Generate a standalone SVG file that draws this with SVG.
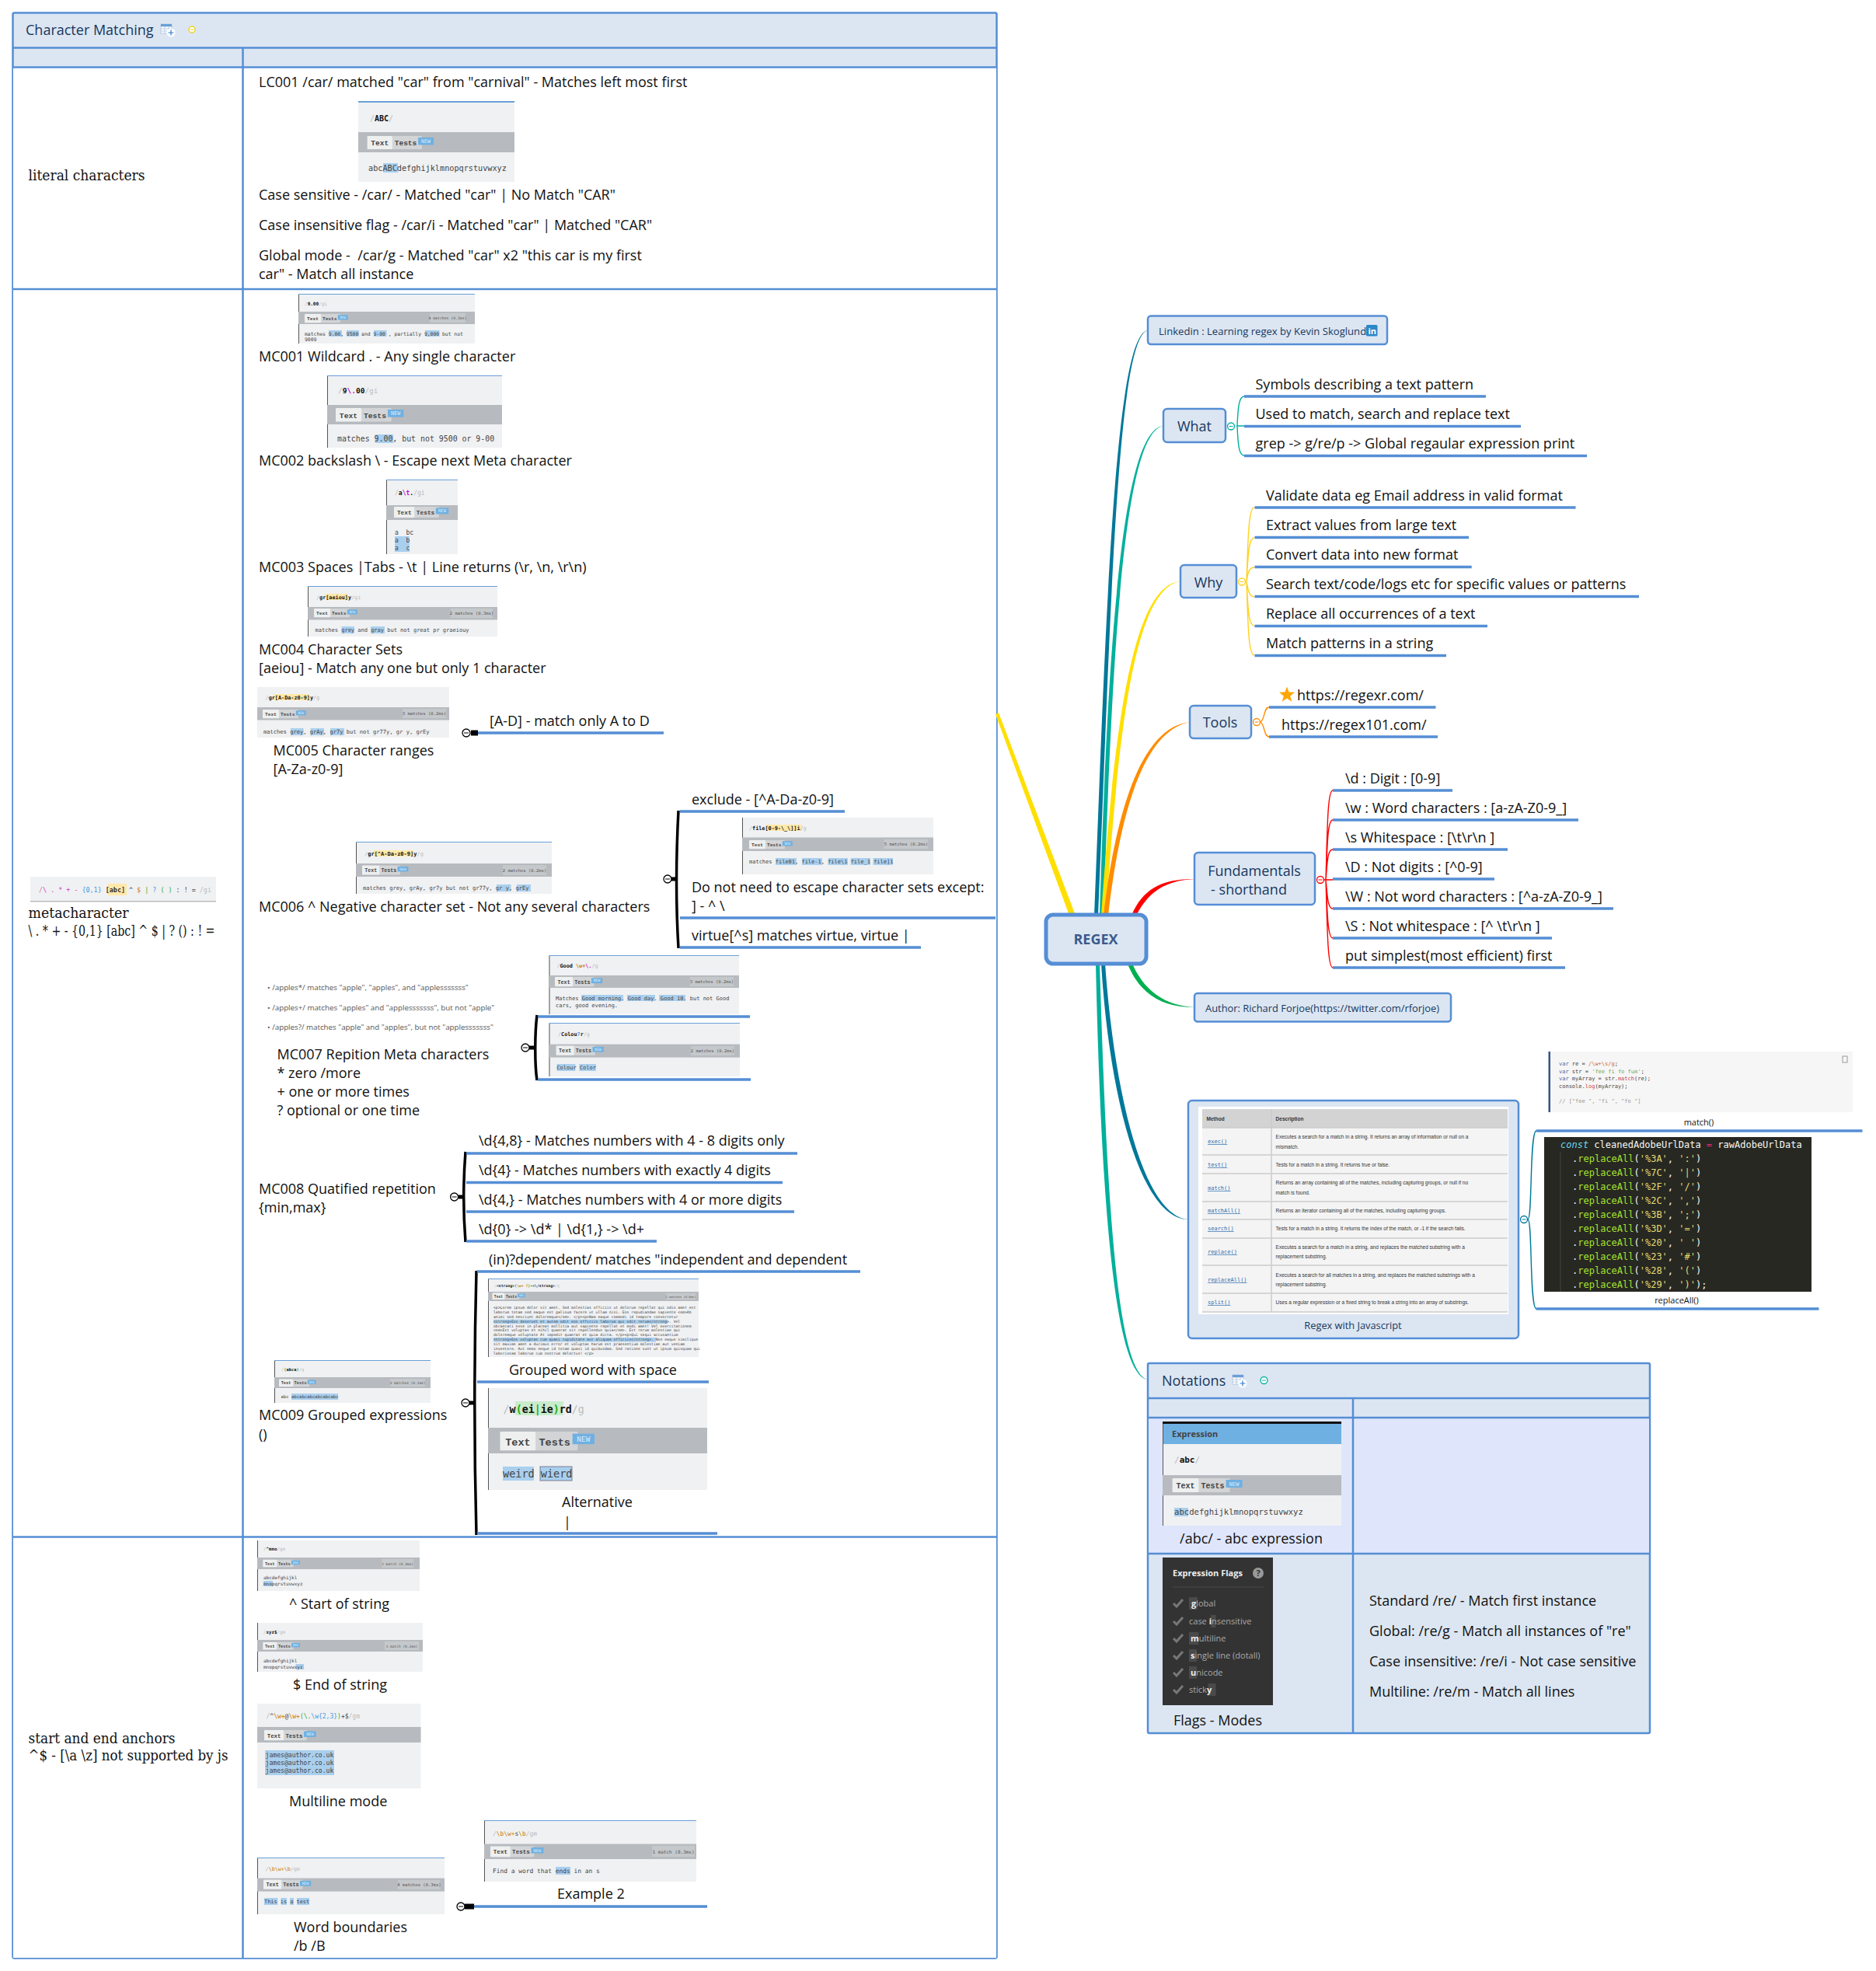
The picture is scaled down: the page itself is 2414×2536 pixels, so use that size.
<svg xmlns="http://www.w3.org/2000/svg" width="2414" height="2536" viewBox="0 0 2414 2536">
<style>
text{font-family:"Open Sans","Noto Sans",sans-serif;font-size:18px;fill:#111}
.b{fill:#dce6f2;stroke:#558ed5;stroke-width:2.5}
.bl{fill:none;stroke:#558ed5;stroke-width:2.5}
.u{fill:none;stroke:#558ed5;stroke-width:3.5}
.h{fill:#17375e}
.sf{font-family:"DejaVu Serif",serif;font-size:18px}
.m{font-family:"DejaVu Sans Mono",monospace;fill:#444}
.mb{font-family:"DejaVu Sans Mono",monospace;fill:#111;font-weight:bold}
.dim{fill:#bbb;font-weight:normal}
.sb{fill:#f0f1f3}
.sg{fill:#b7bbbf}
.st{fill:#6aa0d8}
.sl{fill:#555}
.hl{fill:#a9cfee}
.hy{fill:#ffe9a8}
.pl{fill:#c5c8cb}
.pt{font-family:"DejaVu Sans Mono",monospace;fill:#555;text-anchor:middle}
.ring{fill:#fff;stroke-width:1.3}
.cn{fill:none;stroke-width:1.4}
.br{fill:none;stroke:#000;stroke-width:3.5}
.sm{font-family:"Liberation Sans",sans-serif;font-size:6.5px;fill:#333}
.lk{font-family:"DejaVu Sans Mono",monospace;font-size:7px;fill:#2a6db0;text-decoration:underline}
.fl{font-size:11px;fill:#aaa}
.flb{font-weight:bold;fill:#eee}
.ck{fill:none;stroke:#777;stroke-width:3}
.cap{font-size:11px;text-anchor:middle}
</style>
<defs>
<g id="tabs">
<rect x="34" width="40" height="18" fill="#d2d4d6" rx="1"/>
<rect width="34" height="18" fill="#eef0f0" rx="1"/>
<text x="17" y="13" text-anchor="middle" style="font-size:10px;fill:#444;font-weight:bold;font-family:'Liberation Mono',monospace">Text</text>
<text x="52" y="13" text-anchor="middle" style="font-size:10px;fill:#444;font-weight:bold;font-family:'Liberation Mono',monospace">Tests</text>
<rect x="69" y="2" width="21" height="10" fill="#6fb0e2"/>
<text x="79.500" y="9.500" text-anchor="middle" style="font-size:7px;fill:#d8ecfa;font-family:'DejaVu Sans Mono',monospace">NEW</text>
</g>
<g id="grid">
<rect x="0" y="0" width="14" height="12" fill="#fff" stroke="#a8c0dc" stroke-width=".8"/>
<path d="M0 3H14M0 6H14M0 9H14M5 0V12M10 0V12" stroke="#a8c0dc" stroke-width=".8" fill="none"/>
<rect x="0" y="0" width="14" height="3" fill="#6aa0d8"/>
<circle cx="13" cy="11" r="5.500" fill="#fff"/>
<path d="M9.500 11H16.500M13 7.500V14.500" stroke="#2a7fd0" stroke-width="1.200" fill="none"/>
</g>
</defs>
<rect width="2414" height="2536" fill="#fff"/>

<g id="character-matching">
<rect class="b" x="16.500" y="16.500" width="1266" height="2503" rx="2"/>
<rect x="17" y="87" width="1265" height="2432" fill="#fff"/>
<path class="bl" d="M16 61.500H1283M16 86.500H1283M16 372H1283M16 1977.500H1283M312.500 62V2519"/>
<text class="h" x="33" y="45">Character Matching</text>
<use href="#grid" x="207" y="31"/>
<circle cx="247" cy="38" r="4" fill="#fff" stroke="#f2d21a" stroke-width="1.500"/><path d="M245 38H249" stroke="#f2d21a"/>
<text class="sf" x="36.500" y="232" textLength="150" lengthAdjust="spacingAndGlyphs">literal characters</text>
<text class="sf" x="36.500" y="1181" textLength="129" lengthAdjust="spacingAndGlyphs">metacharacter</text>
<text class="sf" x="36.500" y="1204" textLength="240" lengthAdjust="spacingAndGlyphs">\ . * + - {0,1} [abc] ^ $ | ? () : ! =</text>
<text class="sf" x="36.500" y="2243" textLength="189" lengthAdjust="spacingAndGlyphs">start and end anchors</text>
<text class="sf" x="36.500" y="2265" textLength="257" lengthAdjust="spacingAndGlyphs">^$ - [\a \z] not supported by js</text>
</g>

<g id="connectors">
<path d="M1281 919L1376 1178L1384 1178L1285 917Z" fill="#ffdf00"/>
<path d="M1408 1178C1423 800 1434 430 1477 425C1437 433 1429 800 1413 1178Z" fill="#00789a"/>
<path d="M1415 1178C1425 850 1442 552 1497 548C1445 556 1431 850 1420 1178Z" fill="#00b09c"/>
<path d="M1417 1178C1433 950 1455 752 1519 748C1458 757 1439 950 1423 1178Z" fill="#ffdf00"/>
<path d="M1420 1178C1436 1040 1470 935 1531 929C1473 940 1442 1040 1426 1178Z" fill="#ff8c00"/>
<path d="M1456 1178C1472 1140 1500 1131 1537 1131C1502 1133 1479 1145 1462 1178Z" fill="#ff0000"/>
<path d="M1451 1240C1468 1283 1500 1296 1537 1296C1502 1294 1474 1278 1457 1240Z" fill="#00b050"/>
<path d="M1410 1240C1416 1500 1430 1770 1477 1775C1434 1766 1423 1500 1415 1240Z" fill="#00b09c"/>
<path d="M1417 1240C1428 1420 1470 1569 1529 1569C1474 1565 1435 1420 1422 1240Z" fill="#00789a"/>
<g class="cn" stroke="#00b09c"><path d="M1591 548H1601M1592 548C1593 525 1594 510 1601 510M1592 548C1593 571 1594 586 1601 586"/></g>
<g class="cn" stroke="#ffd21f"><path d="M1604 748C1606 700 1606 653 1614 653M1604 748C1606 720 1606 692 1614 692M1604 748C1606 735 1608 730 1614 730M1604 748C1606 760 1608 768 1614 768M1604 748C1606 780 1606 805 1614 805M1604 748C1606 800 1606 843 1614 843"/></g>
<g class="cn" stroke="#ff8c00"><path d="M1622 929C1628 925 1626 910 1633 910M1622 929C1628 933 1626 948 1633 948"/></g>
<g class="cn" stroke="#ff0000"><path d="M1704 1132H1715M1706 1132C1708 1070 1708 1017 1715 1017M1706 1132C1708 1090 1708 1055 1715 1055M1706 1132C1708 1110 1708 1093 1715 1093M1706 1132C1708 1150 1708 1169 1715 1169M1706 1132C1708 1170 1708 1207 1715 1207M1706 1132C1708 1190 1708 1245 1715 1245"/></g>
<g class="cn" stroke="#00789a"><path d="M1966 1569C1972 1569 1968 1455 1977 1455M1966 1569C1972 1569 1968 1684 1977 1684"/></g>
<g stroke="#000" fill="none">
<path d="M606 943H615" stroke-width="7"/>
<path class="br" d="M873 1043C870 1100 870 1170 873 1220"/><path d="M864 1131H871" stroke-width="5"/>
<path class="br" d="M691 1306C688 1330 688 1370 691 1390"/><path d="M681 1348H689" stroke-width="5"/>
<path class="br" d="M599 1482C596 1520 596 1560 599 1598"/><path d="M590 1540H597" stroke-width="5"/>
<path class="br" d="M613 1635C610 1750 610 1860 613 1975"/><path d="M604 1805H611" stroke-width="5"/>
<path d="M598 2453H610" stroke-width="7"/>
</g>
</g>

<g id="meta-image">
<rect class="sb" x="39" y="1128" width="239" height="32"/><rect x="39" y="1159" width="239" height="1.500" fill="#bbb"/>
<rect class="hy" x="139" y="1137" width="24" height="15"/>
<text x="50" y="1148" class="m" style="font-size:8.400px"><tspan fill="#c78">/</tspan><tspan fill="#c3c">\ . * + -</tspan> <tspan fill="#49d">{0,1}</tspan> <tspan style="font-weight:bold" fill="#333">[abc]</tspan> ^ <tspan fill="#c70">$</tspan> <tspan fill="#3a3">|</tspan> <tspan fill="#49d">?</tspan> <tspan fill="#3a3">( )</tspan> : ! = <tspan fill="#bbb">/gi</tspan></text>
</g>

<g id="lc001">
<text x="333" y="112">LC001 /car/ matched "car" from "carnival" - Matches left most first</text>
<text x="333" y="257">Case sensitive - /car/ - Matched "car" | No Match "CAR"</text>
<text x="333" y="296">Case insensitive flag - /car/i - Matched "car" | Matched "CAR"</text>
<text x="333" y="335" xml:space="preserve">Global mode -  /car/g - Matched "car" x2 "this car is my first</text>
<text x="333" y="359">car" - Match all instance</text>
<rect class="sb" x="461" y="130" width="201" height="104"/><rect class="st" x="461" y="130" width="201" height="2"/><rect class="sg" x="461" y="170" width="201" height="26"/>
<use href="#tabs" transform="translate(472.600 175) scale(.95)"/>
<text class="mb" x="476" y="156" style="font-size:10px"><tspan class="dim">/</tspan>ABC<tspan class="dim">/</tspan></text>
<rect class="hl" x="493" y="210" width="19" height="12"/>
<text class="m" x="474" y="220" style="font-size:10.200px">abcABCdefghijklmnopqrstuvwxyz</text>
</g>

<g id="mc001">
<rect class="sb" x="384" y="378" width="227" height="64"/><rect class="st" x="384" y="378" width="227" height="1"/><rect class="sl" x="384" y="379" width="1" height="63"/><rect class="sg" x="384" y="401" width="227" height="16"/>
<use href="#tabs" transform="translate(392 404) scale(.62)"/>
<rect class="pl" x="553" y="403" width="46" height="12"/><text class="pt" x="576" y="411" style="font-size:4.800px">4 matches (0.3ms)</text>
<text class="mb" x="392" y="393" style="font-size:6px"><tspan class="dim">/</tspan>9.00<tspan class="dim">/gi</tspan></text>
<rect class="hl" x="423" y="425" width="17" height="8"/><rect class="hl" x="446" y="425" width="16" height="8"/><rect class="hl" x="481" y="425" width="16.500" height="8"/><rect class="hl" x="547" y="425" width="18.500" height="8"/>
<text class="m" x="392" y="431.500" style="font-size:6.400px">matches 9.00, 9500 and 9-00 , partially 9,000 but not</text>
<text class="m" x="392" y="439" style="font-size:6.400px">9009</text>
<text x="333" y="465">MC001 Wildcard . - Any single character</text>
</g>

<g id="mc002">
<rect class="sb" x="421" y="483" width="225" height="93"/><rect class="st" x="421" y="483" width="225" height="1"/><rect class="sl" x="421" y="484" width="1" height="92"/><rect class="sg" x="421" y="521" width="225" height="25"/>
<use href="#tabs" transform="translate(432 525) scale(.97)"/>
<text class="mb" x="435" y="506" style="font-size:9.500px"><tspan class="dim">/</tspan>9<tspan fill="#c0c">\.</tspan>00<tspan class="dim">/gi</tspan></text>
<rect class="hl" x="482.600" y="559" width="23.500" height="11"/>
<text class="m" x="434" y="568" style="font-size:9.900px">matches 9.00, but not 9500 or 9-00</text>
<text x="333" y="599">MC002 backslash \ - Escape next Meta character</text>
</g>

<g id="mc003">
<rect class="sb" x="497" y="617" width="92" height="96"/><rect class="st" x="497" y="617" width="92" height="1"/><rect class="sl" x="497" y="618" width="1" height="95"/><rect class="sg" x="497" y="650" width="92" height="19"/>
<use href="#tabs" transform="translate(507 652) scale(.78)"/>
<text class="mb" x="508" y="637" style="font-size:8px"><tspan class="dim">/</tspan>a<tspan fill="#c0c">\t</tspan>.<tspan class="dim">/gi</tspan></text>
<rect class="hl" x="508" y="690" width="19" height="10"/><rect class="hl" x="508" y="700" width="19" height="10"/>
<text class="m" x="508" y="688" style="font-size:8px" xml:space="preserve">a  bc</text>
<text class="m" x="508" y="698" style="font-size:8px" xml:space="preserve">a  b</text>
<text class="m" x="508" y="708" style="font-size:8px" xml:space="preserve">a  c</text>
<text x="333" y="736">MC003 Spaces |Tabs - \t | Line returns (\r, \n, \r\n)</text>
</g>

<g id="mc004">
<rect class="sb" x="396" y="754" width="244" height="65"/><rect class="st" x="396" y="754" width="244" height="1"/><rect class="sl" x="396" y="755" width="1" height="64"/><rect class="sg" x="396" y="781" width="244" height="16.500"/>
<use href="#tabs" transform="translate(404 783) scale(.62)"/>
<rect class="pl" x="580" y="783" width="54" height="12"/><text class="pt" x="607" y="791" style="font-size:5.500px">2 matches (0.3ms)</text>
<rect class="hy" x="418.500" y="764" width="29" height="8"/>
<text class="mb" x="407" y="770.500" style="font-size:6.800px"><tspan class="dim">/</tspan>gr[aeiou]y<tspan class="dim">/gi</tspan></text>
<rect class="hl" x="439.500" y="806" width="16.500" height="9"/><rect class="hl" x="477" y="806" width="18" height="9"/>
<text class="m" x="405.500" y="813" style="font-size:7px">matches grey and gray but not great pr graeiouy</text>
<text x="333" y="842">MC004 Character Sets</text>
<text x="333" y="866">[aeiou] - Match any one but only 1 character</text>
</g>

<g id="mc005">
<rect class="sb" x="331" y="884" width="247" height="65"/><rect class="sg" x="331" y="910" width="247" height="16.500"/>
<use href="#tabs" transform="translate(338 913) scale(.62)"/>
<rect class="pl" x="518" y="912" width="56" height="12"/><text class="pt" x="546" y="920" style="font-size:5.500px">3 matches (0.2ms)</text>
<rect class="hy" x="352" y="893" width="46" height="8"/>
<text class="mb" x="341.600" y="899.500" style="font-size:6.800px"><tspan class="dim">/</tspan>gr[A-Da-z0-9]y<tspan class="dim">/g</tspan></text>
<rect class="hl" x="374" y="937" width="16.500" height="9"/><rect class="hl" x="399.600" y="937" width="17.400" height="9"/><rect class="hl" x="425" y="937" width="18" height="9"/>
<text class="m" x="339" y="944" style="font-size:7.100px">matches grey, grAy, gr7y but not gr77y, gr y, grEy</text>
<text x="351.500" y="972">MC005 Character ranges</text>
<text x="351.500" y="996">[A-Za-z0-9]</text>
<circle class="ring" cx="600" cy="943" r="5" stroke="#000"/><path d="M597 943H603" stroke="#000"/>
<text x="630" y="934">[A-D] - match only A to D</text>
<path class="u" d="M615 943H854"/>
</g>

<g id="mc006">
<rect class="sb" x="458" y="1083" width="252" height="67"/><rect class="st" x="458" y="1083" width="252" height="1"/><rect class="sl" x="458" y="1084" width="1" height="66"/><rect class="sg" x="458" y="1111" width="252" height="17"/>
<use href="#tabs" transform="translate(466 1113.500) scale(.66)"/>
<rect class="pl" x="647" y="1113" width="56" height="13"/><text class="pt" x="675" y="1122" style="font-size:5.500px">2 matches (0.2ms)</text>
<rect class="hy" x="480" y="1094" width="52" height="8"/>
<text class="mb" x="469" y="1100.500" style="font-size:7px"><tspan class="dim">/</tspan>gr[^A-Da-z0-9]y<tspan class="dim">/g</tspan></text>
<rect class="hl" x="639" y="1138" width="18.500" height="9"/><rect class="hl" x="665" y="1138" width="18" height="9"/>
<text class="m" x="467" y="1145" style="font-size:7.100px">matches grey, grAy, gr7y but not gr77y, gr y, grEy</text>
<text x="333" y="1173">MC006 ^ Negative character set - Not any several characters</text>
<circle class="ring" cx="859" cy="1131" r="5" stroke="#000"/><path d="M856 1131H862" stroke="#000"/>
<text x="890" y="1035">exclude - [^A-Da-z0-9]</text>
<path class="u" d="M875 1044H1087"/>
<rect class="sb" x="955" y="1052" width="246" height="73"/><rect class="sl" x="955" y="1052" width="1" height="73"/><rect class="sg" x="955" y="1077.500" width="246" height="17.500"/>
<use href="#tabs" transform="translate(964 1081) scale(.62)"/>
<rect class="pl" x="1137.500" y="1080" width="56.500" height="12"/><text class="pt" x="1166" y="1088" style="font-size:5.500px">5 matches (0.2ms)</text>
<rect class="hy" x="986" y="1061" width="46" height="8"/>
<text class="mb" x="964" y="1067.500" style="font-size:6.800px"><tspan class="dim">/</tspan>file[0-9-\_\]]i<tspan class="dim">/g</tspan></text>
<rect class="hl" x="998" y="1104" width="27" height="9"/><rect class="hl" x="1032" y="1104" width="26" height="9"/><rect class="hl" x="1065.500" y="1104" width="25.500" height="9"/><rect class="hl" x="1094.600" y="1104" width="25.400" height="9"/><rect class="hl" x="1123.500" y="1104" width="25.500" height="9"/>
<text class="m" x="964" y="1111" style="font-size:7px">matches file01, file-1, file\1 file_1 file]1</text>
<text x="890" y="1148">Do not need to escape character sets except:</text>
<text x="890" y="1172">] - ^ \</text>
<path class="u" d="M875 1181H1281"/>
<text x="890" y="1210">virtue[^s] matches virtue, virtue |</text>
<path class="u" d="M875 1219H1185"/>
</g>

<g id="mc007">
<text x="344" y="1274" style="font-size:9.750px;fill:#555">• /apples*/ matches "apple", "apples", and "applesssssss"</text>
<text x="344" y="1300" style="font-size:9.750px;fill:#555">• /apples+/ matches "apples" and "applesssssss", but not "apple"</text>
<text x="344" y="1325" style="font-size:9.750px;fill:#555">• /apples?/ matches "apple" and "apples", but not "applesssssss"</text>
<text x="356.500" y="1363">MC007 Repition Meta characters</text>
<text x="356.500" y="1387">* zero /more</text>
<text x="356.500" y="1411">+ one or more times</text>
<text x="356.500" y="1435">? optional or one time</text>
<circle class="ring" cx="676" cy="1348" r="5" stroke="#000"/><path d="M673 1348H679" stroke="#000"/>
<rect class="sb" x="706.500" y="1229" width="244.500" height="76"/><rect class="st" x="706.500" y="1229" width="244.500" height="1"/><rect class="sl" x="706.500" y="1230" width="1" height="75"/><rect class="sg" x="706.500" y="1255" width="244.500" height="16"/>
<use href="#tabs" transform="translate(714 1257) scale(.68)"/>
<rect class="pl" x="888" y="1257" width="56" height="12"/><text class="pt" x="916" y="1265" style="font-size:5.500px">3 matches (0.2ms)</text>
<text class="mb" x="716.400" y="1244.500" style="font-size:6.800px"><tspan class="dim">/</tspan>Good <tspan fill="#c70">\w+</tspan><tspan fill="#c0c">\.</tspan><tspan class="dim">/g</tspan></text>
<rect class="hl" x="748" y="1280" width="54" height="8"/><rect class="hl" x="807" y="1280" width="36" height="8"/><rect class="hl" x="848" y="1280" width="34" height="8"/>
<text class="m" x="715" y="1287" style="font-size:7px">Matches Good morning. Good day. Good 10. but not Good</text>
<text class="m" x="715" y="1296" style="font-size:7px">cars, good evening.</text>
<path class="u" d="M692 1308H965"/>
<rect class="sb" x="706.500" y="1316" width="245.500" height="69"/><rect class="st" x="706.500" y="1316" width="245.500" height="1"/><rect class="sl" x="706.500" y="1317" width="1" height="68"/><rect class="sg" x="706.500" y="1343.600" width="245.500" height="17"/>
<use href="#tabs" transform="translate(715.600 1345.500) scale(.68)"/>
<rect class="pl" x="889" y="1346" width="56" height="12"/><text class="pt" x="917" y="1354" style="font-size:5.500px">2 matches (0.2ms)</text>
<text class="mb" x="718" y="1333" style="font-size:6.800px"><tspan class="dim">/</tspan>Colou<tspan fill="#49d">?</tspan>r<tspan class="dim">/g</tspan></text>
<rect class="hl" x="716.400" y="1369" width="24" height="9"/><rect class="hl" x="745.400" y="1369" width="21.600" height="9"/>
<text class="m" x="716.400" y="1376" style="font-size:7px">Colour Color</text>
<path class="u" d="M692 1389H966"/>
</g>

<g id="mc008">
<text x="333" y="1536">MC008 Quatified repetition</text>
<text x="333" y="1560">{min,max}</text>
<circle class="ring" cx="584.600" cy="1540" r="5" stroke="#000"/><path d="M581.600 1540H587.600" stroke="#000"/>
<text x="616" y="1474">\d{4,8} - Matches numbers with 4 - 8 digits only</text>
<path class="u" d="M600 1484H1026"/>
<text x="616" y="1512">\d{4} - Matches numbers with exactly 4 digits</text>
<path class="u" d="M600 1521.500H1007"/>
<text x="616" y="1550">\d{4,} - Matches numbers with 4 or more digits</text>
<path class="u" d="M600 1559H1022"/>
<text x="616" y="1588">\d{0} -&gt; \d* | \d{1,} -&gt; \d+</text>
<path class="u" d="M600 1597H845"/>
</g>

<g id="mc009">
<rect class="sb" x="353" y="1750" width="201" height="55"/><rect class="st" x="353" y="1750" width="201" height="1"/><rect class="sl" x="353" y="1751" width="1" height="54"/><rect class="sg" x="353" y="1772" width="201" height="14"/>
<use href="#tabs" transform="translate(359 1774.500) scale(.53)"/>
<rect class="pl" x="502" y="1774" width="45" height="10"/><text class="pt" x="524.500" y="1781" style="font-size:4.500px">3 matches (0.1ms)</text>
<text class="mb" x="362" y="1764" style="font-size:5.400px"><tspan class="dim">/</tspan><tspan fill="#3a3">(</tspan>abca<tspan fill="#3a3">)</tspan><tspan class="dim">/g</tspan></text>
<rect class="hl" x="375" y="1793" width="60" height="8"/>
<text class="m" x="361.500" y="1799" style="font-size:5.600px">abc abcabcabcabcabcabc</text>
<text x="333" y="1827">MC009 Grouped expressions</text>
<text x="333" y="1852">()</text>
<circle class="ring" cx="599" cy="1805" r="5" stroke="#000"/><path d="M596 1805H602" stroke="#000"/>
<text x="629" y="1627">(in)?dependent/ matches "independent and dependent</text>
<path class="u" d="M614 1636H1107"/>
<rect class="sb" x="628" y="1645" width="271" height="101"/><rect class="st" x="628" y="1645" width="271" height="1"/><rect class="sl" x="628" y="1646" width="1" height="100"/><rect class="sg" x="628" y="1662" width="271" height="12"/>
<use href="#tabs" transform="translate(633.500 1663.500) scale(.47)"/>
<rect class="pl" x="857" y="1664" width="38" height="8"/><text class="pt" x="876" y="1670" style="font-size:3.800px">2 matches (0.0ms)</text>
<text class="mb" x="636" y="1655.500" style="font-size:4.800px"><tspan class="dim">/</tspan>&lt;strong&gt;<tspan fill="#3a3">(</tspan><tspan fill="#c70">\w+ ?</tspan><tspan fill="#3a3">)+</tspan>&lt;\/strong&gt;<tspan class="dim">/g</tspan></text>
<rect class="hl" x="635" y="1697.800" width="224" height="5.500"/><rect class="hl" x="635" y="1721" width="209" height="5.500"/>
<text class="m" style="font-size:4.750px" x="635" y="1684">&lt;p&gt;Lorem ipsum dolor sit amet. Sed molestias officiis ut dolorum repellat qui odio amet est</text>
<text class="m" style="font-size:4.750px" x="635" y="1690">laborum totam sed  eaque est galisum facere ut ullam nisi. Eos repudiandae sapiente &lt;em&gt;Ab</text>
<text class="m" style="font-size:4.750px" x="635" y="1695.800">animi sed nesciunt doloremque&lt;/em&gt;. &lt;/p&gt;&lt;p&gt;Nam eaque commodi id tempore consectetur</text>
<text class="m" style="font-size:4.750px" x="635" y="1701.700">&lt;strong&gt;Eos deserunt et autem odit eos officiis laborum qui odit rerum&lt;/strong&gt;. Vel</text>
<text class="m" style="font-size:4.750px" x="635" y="1707.500">obcaecati esse in placeat mollitia aut sapiente repellat et modi amet! Vel exercitationem</text>
<text class="m" style="font-size:4.750px" x="635" y="1713.300">&lt;em&gt;Est voluptas et nihil quaerat sit repellendus quia&lt;/em&gt;. Est rerum molestiae qui</text>
<text class="m" style="font-size:4.750px" x="635" y="1719.100">doloremque voluptate At impedit quaerat et quia dicta. &lt;/p&gt;&lt;p&gt;Qui sequi accusantium</text>
<text class="m" style="font-size:4.750px" x="635" y="1725">&lt;strong&gt;Eos voluptas cum quasi cupiditate aut aliquam officiis&lt;/strong&gt;. Non eaque similique</text>
<text class="m" style="font-size:4.750px" x="635" y="1730.800">sit maxime amet a ducimus error et voluptas harum est praesentium molestiae aut veniam</text>
<text class="m" style="font-size:4.750px" x="635" y="1736.600">inventore. Aut nemo neque id totam quasi id quibusdam. Sed ratione sunt ut ipsum quisquam qui</text>
<text class="m" style="font-size:4.750px" x="635" y="1742.500">laboriosam laborum cum nostrum delectus! &lt;/p&gt;</text>
<text x="655" y="1769">Grouped word with space</text>
<path class="u" d="M614 1778H912"/>
<rect class="sb" x="628" y="1786" width="282" height="131"/><rect class="sl" x="628" y="1786" width="1" height="131"/><rect class="sg" x="628" y="1837" width="282" height="33"/>
<use href="#tabs" transform="translate(643.500 1842) scale(1.350)"/>
<rect fill="#c9eccb" x="663" y="1803" width="62" height="18"/>
<text class="mb" x="647.600" y="1818" style="font-size:13.300px"><tspan class="dim">/</tspan>w<tspan fill="#2a2">(</tspan>ei<tspan fill="#2a2">|</tspan>ie<tspan fill="#2a2">)</tspan>rd<tspan class="dim">/g</tspan></text>
<rect class="hl" x="647" y="1887" width="40" height="18"/><rect class="hl" x="695" y="1887" width="41" height="18"/><rect x="695" y="1887" width="41" height="18" fill="none" stroke="#667" stroke-width=".8"/>
<text class="m" x="647" y="1901" style="font-size:13.500px">weird wierd</text>
<text x="723" y="1939">Alternative</text>
<text x="725" y="1965">|</text>
<path class="u" d="M614 1973H923"/>
</g>

<g id="anchors">
<rect class="sb" x="331" y="1982" width="209" height="65"/><rect class="sl" x="331" y="1982" width="1" height="65"/><rect class="sg" x="331" y="2004" width="209" height="15"/>
<use href="#tabs" transform="translate(338.300 2006.700) scale(.53)"/>
<rect class="pl" x="491" y="2006" width="41" height="11"/><text class="pt" x="511.500" y="2013.500" style="font-size:4.500px">1 match (0.3ms)</text>
<text class="mb" x="339" y="1995" style="font-size:5.800px"><tspan class="dim">/</tspan>^mno<tspan class="dim">/gm</tspan></text>
<rect class="hl" x="339" y="2034" width="12" height="7"/>
<text class="m" x="339" y="2032" style="font-size:6px">abcdefghijkl</text>
<text class="m" x="339" y="2039.500" style="font-size:6px">mnopqrstuvwxyz</text>
<text x="372" y="2070">^ Start of string</text>

<rect class="sb" x="331" y="2088" width="213" height="63"/><rect class="sl" x="331" y="2088" width="1" height="63"/><rect class="sg" x="331" y="2110" width="213" height="15"/>
<use href="#tabs" transform="translate(338.300 2113) scale(.53)"/>
<rect class="pl" x="495" y="2112" width="44" height="11"/><text class="pt" x="517" y="2119.500" style="font-size:4.500px">1 match (0.2ms)</text>
<text class="mb" x="339" y="2101.500" style="font-size:5.800px"><tspan class="dim">/</tspan>xyz$<tspan class="dim">/gm</tspan></text>
<rect class="hl" x="380.600" y="2141" width="10.500" height="7"/>
<text class="m" x="339" y="2139" style="font-size:6px">abcdefghijkl</text>
<text class="m" x="339" y="2146.500" style="font-size:6px">mnopqrstuvwxyz</text>
<text x="377" y="2174">$ End of string</text>

<rect class="sb" x="331" y="2192" width="210.500" height="109"/><rect class="sg" x="331" y="2222" width="210.500" height="20"/>
<use href="#tabs" transform="translate(340 2226) scale(.74)"/>
<text class="m" x="342.500" y="2211" style="font-size:8px"><tspan class="dim">/</tspan>^<tspan fill="#c70">\w+</tspan>@<tspan fill="#c70">\w+</tspan><tspan fill="#3a3">(\.</tspan><tspan fill="#49d">\w{2,3}</tspan><tspan fill="#3a3">)</tspan>+$<tspan class="dim">/gm</tspan></text>
<rect class="hl" x="341" y="2252" width="89" height="32"/>
<text class="m" x="341.600" y="2260.500" style="font-size:8.100px">james@author.co.uk</text>
<text class="m" x="341.600" y="2270.500" style="font-size:8.100px">james@author.co.uk</text>
<text class="m" x="341.600" y="2280.500" style="font-size:8.100px">james@author.co.uk</text>
<text x="372" y="2324">Multiline mode</text>

<rect class="sb" x="623" y="2342" width="273" height="79"/><rect class="st" x="623" y="2342" width="273" height="1"/><rect class="sl" x="623" y="2343" width="1" height="78"/><rect class="sg" x="623" y="2372.500" width="273" height="19.500"/>
<use href="#tabs" transform="translate(631 2375.500) scale(.76)"/>
<rect class="pl" x="839" y="2375" width="55" height="14"/><text class="pt" x="866.500" y="2385" style="font-size:6px">1 match (0.3ms)</text>
<text class="m" x="634" y="2361.500" style="font-size:7.900px"><tspan class="dim">/</tspan><tspan fill="#c70">\b\w+</tspan>s<tspan fill="#c70">\b</tspan><tspan class="dim">/gm</tspan></text>
<rect class="hl" x="715" y="2402" width="19" height="10"/>
<text class="m" x="634" y="2410" style="font-size:7.900px">Find a word that ends in an s</text>
<text x="717" y="2443">Example 2</text>
<circle class="ring" cx="593" cy="2453" r="5" stroke="#000"/><path d="M590 2453H596" stroke="#000"/>
<path class="u" d="M610 2453H910"/>

<rect class="sb" x="331" y="2390" width="241" height="73"/><rect class="st" x="331" y="2390" width="241" height="1"/><rect class="sl" x="331" y="2391" width="1" height="72"/><rect class="sg" x="331" y="2416.600" width="241" height="17"/>
<use href="#tabs" transform="translate(339 2418.500) scale(.68)"/>
<rect class="pl" x="512.400" y="2419" width="54" height="12"/><text class="pt" x="539.400" y="2427" style="font-size:5.500px">4 matches (0.3ms)</text>
<text class="m" x="341.600" y="2407" style="font-size:6.700px"><tspan class="dim">/</tspan><tspan fill="#c70">\b\w+\b</tspan><tspan class="dim">/gm</tspan></text>
<rect class="hl" x="340" y="2442" width="17.400" height="9"/><rect class="hl" x="361.500" y="2442" width="7.500" height="9"/><rect class="hl" x="373" y="2442" width="5" height="9"/><rect class="hl" x="382" y="2442" width="16" height="9"/>
<text class="m" x="340" y="2449" style="font-size:6.900px">This is a test</text>
<text x="378" y="2486">Word boundaries</text>
<text x="378" y="2510">/b /B</text>
</g>

<g id="regex">
<rect x="1346" y="1177" width="129" height="63" rx="9" fill="#dce6f2" stroke="#558ed5" stroke-width="5"/>
<text x="1410" y="1215" text-anchor="middle" style="font-weight:bold;fill:#3a5a8c">REGEX</text>
</g>

<g id="linkedin">
<rect class="b" x="1477" y="406.500" width="308" height="36.500" rx="4"/>
<text class="h" x="1491" y="431" style="font-size:13.100px">Linkedin : Learning regex by Kevin Skoglund</text>
<rect x="1758" y="418" width="14.500" height="14.500" rx="1.500" fill="#2a87c8"/>
<text x="1760.500" y="430" style="font-size:11px;font-weight:bold;fill:#fff">in</text>
</g>

<g id="what">
<rect class="b" x="1497" y="526" width="80" height="43" rx="5"/>
<text class="h" x="1537" y="555" text-anchor="middle">What</text>
<circle class="ring" cx="1584" cy="548.500" r="4.500" stroke="#00b09c"/><path d="M1581.500 548.500H1586.500" stroke="#00b09c"/>
<text x="1615.500" y="501">Symbols describing a text pattern</text><path class="u" d="M1601 510H1912"/>
<text x="1615.500" y="539">Used to match, search and replace text</text><path class="u" d="M1601 548.500H1957"/>
<text x="1615.500" y="577">grep -&gt; g/re/p -&gt; Global regaular expression print</text><path class="u" d="M1601 586.500H2042"/>
</g>

<g id="why">
<rect class="b" x="1519" y="727" width="72" height="42" rx="5"/>
<text class="h" x="1555" y="756" text-anchor="middle">Why</text>
<circle class="ring" cx="1598" cy="748.500" r="4.500" stroke="#ffd21f"/><path d="M1595.500 748.500H1600.500" stroke="#ffd21f"/>
<text x="1629" y="644">Validate data eg Email address in valid format</text><path class="u" d="M1614.500 653H2027.500"/>
<text x="1629" y="682">Extract values from large text</text><path class="u" d="M1614.500 691.500H1890"/>
<text x="1629" y="720">Convert data into new format</text><path class="u" d="M1614.500 729.500H1893.700"/>
<text x="1629" y="758">Search text/code/logs etc for specific values or patterns</text><path class="u" d="M1614.500 767.500H2109"/>
<text x="1629" y="796">Replace all occurrences of a text</text><path class="u" d="M1614.500 805.500H1914"/>
<text x="1629" y="834">Match patterns in a string</text><path class="u" d="M1614.500 843.500H1861"/>
</g>

<g id="tools">
<rect class="b" x="1531" y="908" width="79" height="42" rx="5"/>
<text class="h" x="1570" y="936" text-anchor="middle">Tools</text>
<circle class="ring" cx="1617" cy="929" r="4.500" stroke="#ff8c00"/><path d="M1614.500 929H1619.500" stroke="#ff8c00"/>
<polygon points="1656,883.500 1658.600,890.500 1666,890.800 1660.200,895.500 1662.200,902.700 1656,898.500 1649.800,902.700 1651.800,895.500 1646,890.800 1653.400,890.500" fill="#ffa500"/>
<text x="1669" y="901">https://regexr.com/</text><path class="u" d="M1633 910H1847.500"/>
<text x="1649" y="939">https://regex101.com/</text><path class="u" d="M1633 948H1850"/>
</g>

<g id="fundamentals">
<rect class="b" x="1537" y="1097" width="155" height="67" rx="5"/>
<text class="h" x="1614" y="1127" text-anchor="middle">Fundamentals</text>
<text class="h" x="1607" y="1151" text-anchor="middle">- shorthand</text>
<circle class="ring" cx="1699" cy="1132" r="4.500" stroke="#ff0000"/><path d="M1696.500 1132H1701.500" stroke="#ff0000"/>
<text x="1731" y="1008">\d : Digit : [0-9]</text><path class="u" d="M1715 1017H1869"/>
<text x="1731" y="1046">\w : Word characters : [a-zA-Z0-9_]</text><path class="u" d="M1715 1055H2031"/>
<text x="1731" y="1084">\s Whitespace : [\t\r\n ]</text><path class="u" d="M1715 1093H1940"/>
<text x="1731" y="1122">\D : Not digits : [^0-9]</text><path class="u" d="M1715 1131H1923"/>
<text x="1731" y="1160">\W : Not word characters : [^a-zA-Z0-9_]</text><path class="u" d="M1715 1169H2076"/>
<text x="1731" y="1198">\S : Not whitespace : [^ \t\r\n ]</text><path class="u" d="M1715 1207H1997"/>
<text x="1731" y="1236">put simplest(most efficient) first</text><path class="u" d="M1715 1245H2014"/>
</g>

<g id="author">
<rect class="b" x="1537" y="1278" width="330" height="36.500" rx="4"/>
<text class="h" x="1551" y="1302" style="font-size:12.900px">Author: Richard Forjoe(https://twitter.com/rforjoe)</text>
</g>

<g id="regex-js">
<rect class="b" x="1529" y="1416" width="425" height="306" rx="5"/>
<rect x="1542" y="1424" width="399" height="267" fill="#fff"/>
<rect x="1547" y="1427" width="393" height="261" fill="#f4f4f4"/>
<rect x="1547" y="1427" width="393" height="24" fill="#d3d3d3"/>
<path d="M1547 1451H1940M1547 1486H1940M1547 1510H1940M1547 1546H1940M1547 1569H1940M1547 1593H1940M1547 1628H1940M1547 1664H1940M1547 1688H1940M1636 1427V1688" stroke="#ccc" stroke-width="1.500" fill="none"/>
<text class="sm" x="1552.500" y="1441.500" style="font-weight:bold">Method</text>
<text class="sm" x="1641.600" y="1441.500" style="font-weight:bold">Description</text>
<text class="lk" x="1554" y="1471">exec()</text>
<text class="lk" x="1554" y="1501">test()</text>
<text class="lk" x="1554" y="1531">match()</text>
<text class="lk" x="1554" y="1560">matchAll()</text>
<text class="lk" x="1554" y="1583">search()</text>
<text class="lk" x="1554" y="1613">replace()</text>
<text class="lk" x="1554" y="1649">replaceAll()</text>
<text class="lk" x="1554" y="1678">split()</text>
<text class="sm" x="1641.600" y="1465">Executes a search for a match in a string. It returns an array of information or null on a</text>
<text class="sm" x="1641.600" y="1477.500">mismatch.</text>
<text class="sm" x="1641.600" y="1501">Tests for a match in a string. It returns true or false.</text>
<text class="sm" x="1641.600" y="1524">Returns an array containing all of the matches, including capturing groups, or null if no</text>
<text class="sm" x="1641.600" y="1536.500">match is found.</text>
<text class="sm" x="1641.600" y="1560">Returns an iterator containing all of the matches, including capturing groups.</text>
<text class="sm" x="1641.600" y="1583">Tests for a match in a string. It returns the index of the match, or -1 if the search fails.</text>
<text class="sm" x="1641.600" y="1606.500">Executes a search for a match in a string, and replaces the matched substring with a</text>
<text class="sm" x="1641.600" y="1619">replacement substring.</text>
<text class="sm" x="1641.600" y="1642.500">Executes a search for all matches in a string, and replaces the matched substrings with a</text>
<text class="sm" x="1641.600" y="1655">replacement substring.</text>
<text class="sm" x="1641.600" y="1678">Uses a regular expression or a fixed string to break a string into an array of substrings.</text>
<text class="h" x="1741" y="1710" text-anchor="middle" style="font-size:12.800px">Regex with Javascript</text>
<circle class="ring" cx="1961" cy="1569" r="4.500" stroke="#00789a"/><path d="M1958.500 1569H1963.500" stroke="#00789a"/>
</g>

<g id="match">
<rect x="1992.500" y="1353" width="391.500" height="78" fill="#f6f6f6"/><rect x="1992.500" y="1353" width="2.500" height="78" fill="#34568b"/>
<text class="m" x="2006" y="1370.500" style="font-size:7px"><tspan fill="#46a">var</tspan> re = <tspan fill="#c63">/\w+\s/g</tspan>;</text>
<text class="m" x="2006" y="1380.500" style="font-size:7px"><tspan fill="#46a">var</tspan> str = <tspan fill="#7a5">'fee fi fo fum'</tspan>;</text>
<text class="m" x="2006" y="1389.500" style="font-size:7px"><tspan fill="#46a">var</tspan> myArray = str.<tspan fill="#c44">match</tspan>(re);</text>
<text class="m" x="2006" y="1399.500" style="font-size:7px">console.<tspan fill="#c44">log</tspan>(myArray);</text>
<text class="m" x="2006" y="1418.500" style="font-size:7px;fill:#999">// ["fee ", "fi ", "fo "]</text>
<rect x="2371" y="1359" width="6" height="8" fill="none" stroke="#999"/>
<text class="cap" x="2186" y="1448">match()</text>
<path class="u" d="M1977 1455H2396.500"/>
</g>

<g id="replace-all">
<rect x="1987" y="1463" width="344" height="199" fill="#272822"/>
<path d="M2008 1482V1662" stroke="#444" fill="none"/>
<text class="m" x="2008" y="1477" style="font-size:12px;fill:#f8f8f2"><tspan fill="#66d9ef" font-style="italic">const</tspan> cleanedAdobeUrlData <tspan fill="#f92672">=</tspan> rawAdobeUrlData</text>
<text class="m" x="2023" y="1495" style="font-size:12px;fill:#f8f8f2">.<tspan fill="#a6e22e">replaceAll</tspan>(<tspan fill="#e6db74">'%3A'</tspan>, <tspan fill="#e6db74">':'</tspan>)</text>
<text class="m" x="2023" y="1513" style="font-size:12px;fill:#f8f8f2">.<tspan fill="#a6e22e">replaceAll</tspan>(<tspan fill="#e6db74">'%7C'</tspan>, <tspan fill="#e6db74">'|'</tspan>)</text>
<text class="m" x="2023" y="1531" style="font-size:12px;fill:#f8f8f2">.<tspan fill="#a6e22e">replaceAll</tspan>(<tspan fill="#e6db74">'%2F'</tspan>, <tspan fill="#e6db74">'/'</tspan>)</text>
<text class="m" x="2023" y="1549" style="font-size:12px;fill:#f8f8f2">.<tspan fill="#a6e22e">replaceAll</tspan>(<tspan fill="#e6db74">'%2C'</tspan>, <tspan fill="#e6db74">','</tspan>)</text>
<text class="m" x="2023" y="1567" style="font-size:12px;fill:#f8f8f2">.<tspan fill="#a6e22e">replaceAll</tspan>(<tspan fill="#e6db74">'%3B'</tspan>, <tspan fill="#e6db74">';'</tspan>)</text>
<text class="m" x="2023" y="1585" style="font-size:12px;fill:#f8f8f2">.<tspan fill="#a6e22e">replaceAll</tspan>(<tspan fill="#e6db74">'%3D'</tspan>, <tspan fill="#e6db74">'='</tspan>)</text>
<text class="m" x="2023" y="1603" style="font-size:12px;fill:#f8f8f2" xml:space="preserve">.<tspan fill="#a6e22e">replaceAll</tspan>(<tspan fill="#e6db74">'%20'</tspan>, <tspan fill="#e6db74">' '</tspan>)</text>
<text class="m" x="2023" y="1621" style="font-size:12px;fill:#f8f8f2">.<tspan fill="#a6e22e">replaceAll</tspan>(<tspan fill="#e6db74">'%23'</tspan>, <tspan fill="#e6db74">'#'</tspan>)</text>
<text class="m" x="2023" y="1639" style="font-size:12px;fill:#f8f8f2">.<tspan fill="#a6e22e">replaceAll</tspan>(<tspan fill="#e6db74">'%28'</tspan>, <tspan fill="#e6db74">'('</tspan>)</text>
<text class="m" x="2023" y="1657" style="font-size:12px;fill:#f8f8f2">.<tspan fill="#a6e22e">replaceAll</tspan>(<tspan fill="#e6db74">'%29'</tspan>, <tspan fill="#e6db74">')'</tspan>);</text>
<text class="cap" x="2157.500" y="1677">replaceAll()</text>
<path class="u" d="M1977 1684H2340.500"/>
</g>

<g id="notations">
<rect class="b" x="1477" y="1754" width="646" height="476" rx="2"/>
<rect x="1478" y="1825" width="644" height="174" fill="#dfe6fb"/>
<path class="bl" d="M1477 1799H2123M1477 1824H2123M1477 1999H2123M1741 1799V2230"/>
<text class="h" x="1495" y="1783">Notations</text>
<use href="#grid" x="1586" y="1769"/>
<circle cx="1626.500" cy="1776" r="4.500" fill="#fff" stroke="#00b09c" stroke-width="1.300"/><path d="M1624 1776H1629" stroke="#00b09c"/>
<rect class="sb" x="1496" y="1829" width="230" height="134"/>
<rect x="1496" y="1829" width="230" height="3" fill="#111"/>
<rect x="1496" y="1832" width="230" height="26" fill="#6fb0e2"/>
<rect class="sl" x="1496" y="1832" width="1" height="131"/>
<rect class="sg" x="1496" y="1898" width="230" height="26"/>
<use href="#tabs" x="1508.600" y="1902"/>
<text x="1508" y="1849" style="font-size:11px;font-weight:bold;fill:#444">Expression</text>
<text class="mb" x="1511" y="1882" style="font-size:11px"><tspan class="dim">/</tspan>abc<tspan class="dim">/</tspan></text>
<rect class="hl" x="1511" y="1940" width="18" height="11"/>
<text class="m" x="1511" y="1949" style="font-size:10.600px">abcdefghijklmnopqrstuvwxyz</text>
<text x="1610" y="1986" text-anchor="middle">/abc/ - abc expression</text>
<rect x="1496" y="2004" width="142" height="190" fill="#333"/>
<text x="1509" y="2028" style="font-size:11px;font-weight:bold;fill:#eee">Expression Flags</text>
<circle cx="1619" cy="2024" r="7" fill="#999"/><text x="1619" y="2028" text-anchor="middle" style="font-size:11px;font-weight:bold;fill:#333">?</text>
<path d="M1509 2042H1626" stroke="#484848"/>
<g fill="#4a4a4a">
<rect x="1530" y="2055" width="11" height="16"/><rect x="1558" y="2078" width="6.500" height="16"/><rect x="1530" y="2100" width="12.400" height="16"/><rect x="1530" y="2122" width="10" height="16"/><rect x="1530" y="2144" width="10" height="16"/><rect x="1554.500" y="2166" width="10" height="16"/>
</g>
<path class="ck" d="M1510 2063L1514 2067L1522 2058M1510 2086L1514 2090L1522 2081M1510 2108L1514 2112L1522 2103M1510 2130L1514 2134L1522 2125M1510 2152L1514 2156L1522 2147M1510 2174L1514 2178L1522 2169"/>
<text class="fl" x="1533" y="2067"><tspan class="flb">g</tspan>lobal</text>
<text class="fl" x="1530" y="2090">case <tspan class="flb">i</tspan>nsensitive</text>
<text class="fl" x="1532" y="2112"><tspan class="flb">m</tspan>ultiline</text>
<text class="fl" x="1532" y="2134"><tspan class="flb">s</tspan>ingle line (dotall)</text>
<text class="fl" x="1532" y="2156"><tspan class="flb">u</tspan>nicode</text>
<text class="fl" x="1530" y="2178">stick<tspan class="flb">y</tspan></text>
<text x="1510" y="2220">Flags - Modes</text>
<text x="1762" y="2066">Standard /re/ - Match first instance</text>
<text x="1762" y="2105">Global: /re/g - Match all instances of "re"</text>
<text x="1762" y="2144">Case insensitive: /re/i - Not case sensitive</text>
<text x="1762" y="2183">Multiline: /re/m - Match all lines</text>
</g>
</svg>
